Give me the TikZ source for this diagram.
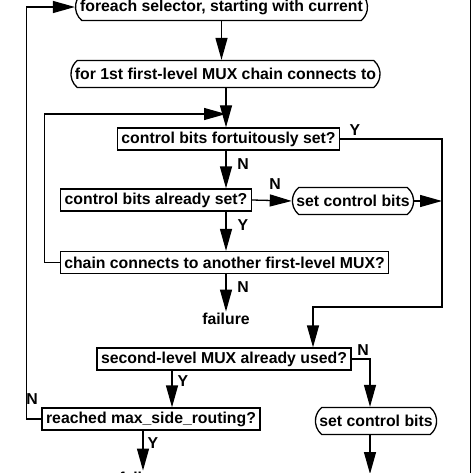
\documentclass[tikz,border=0pt]{standalone}
\usepackage{fontspec}
\setmainfont{Liberation Sans}
\usetikzlibrary{arrows.meta,shapes.misc}
\begin{document}
\begin{tikzpicture}[x=1pt,y=-1pt,line width=1.3pt,
font=\fontsize{15.8}{18}\selectfont\bfseries,
testbox/.style={draw,rectangle,inner xsep=4pt,inner ysep=0pt,minimum height=22pt},
loopbox/.style={draw,rounded rectangle,rounded rectangle arc length=100,inner xsep=3pt,inner ysep=0pt,minimum height=27pt},
flow/.style={-{Triangle[length=22pt,width=12pt]}},
yn/.style={inner sep=0pt}
]
\useasboundingbox (0,0) rectangle (473,473);
\clip (0,0) rectangle (473,473);
% steps
\node (sel)     [loopbox] at (221.5,7)   {foreach selector, starting with current};
\node (first)   [loopbox] at (225.5,74)  {for 1st first-level MUX chain connects to};
\node (fort)    [testbox] at (228.5,139) {control bits fortuitously set?};
\node (already) [testbox] at (156,200)   {control bits already set?};
\node (setA)    [loopbox] at (353,201)   {set control bits};
\node (another) [testbox] at (224.5,262.5) {chain connects to another first-level MUX?};
\node (failA)   [inner sep=1pt] at (226,319) {failure};
\node (second)  [testbox] at (224,359)   {second-level MUX already used?};
\node (setB)    [loopbox] at (376,421)   {set control bits};
\node (reached) [testbox] at (151,419)   {reached max\_side\_routing?};
\node (failB)   [inner sep=1pt] at (143,478) {failure};
% helper points
\coordinate (spine) at (226,114);
\coordinate (rail)  at (442,307);
\coordinate (drop)  at (313,307);
\coordinate (bx)    at (370,359);
\coordinate (out)   at (370,474);
% connectors
\draw[flow] (reached.west) -- ++(-15,0) |- (sel.west);
\draw[flow] (sel.south) -- (sel.south |- first.north);
\draw[flow] (first.south -| spine) -- (spine |- fort.north);
\draw[flow] (another.west) -- ++(-15,0) |- (spine);
\draw[flow] (fort.east) -| (rail) -- (drop) -- (drop |- second.north);
\draw[flow] (spine |- fort.south) -- (spine |- already.north);
\draw[flow] (already.east) -- (setA.west);
\draw[flow] (setA.east) -- (rail |- setA.east);
\draw[flow] (spine |- already.south) -- (spine |- another.north);
\draw[flow] (spine |- another.south) -- (failA.north);
\draw[flow] (second.east) -- (bx) -- (bx |- setB.north);
\draw[flow] (setB.south -| bx) -- (out);
\draw[flow] (second.south -| 172,0) -- (172,0 |- reached.north);
\draw[flow] (reached.south -| failB) -- (failB.north);
% Y / N marks
\node[yn] at (355,130) {Y};
\node[yn] at (243,164) {N};
\node[yn] at (275,184) {N};
\node[yn] at (243,225) {Y};
\node[yn] at (243,287) {N};
\node[yn] at (363,350) {N};
\node[yn] at (183,381) {Y};
\node[yn] at (32,399)  {N};
\node[yn] at (153,443) {Y};
% frame edge
\draw[line width=1pt] (470,0) -- (470,473);
\end{tikzpicture}
\end{document}
